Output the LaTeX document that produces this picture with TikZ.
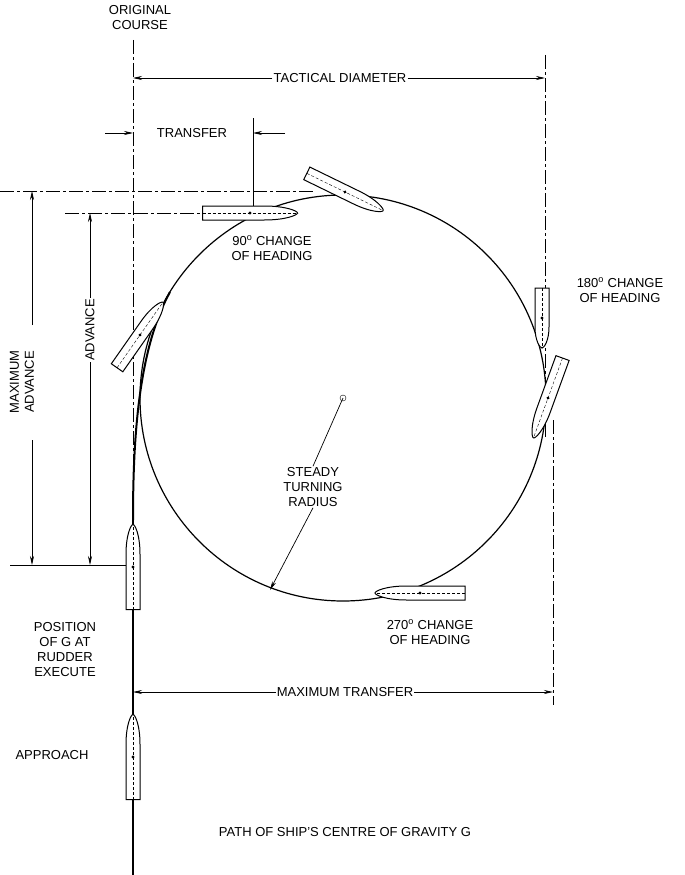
\documentclass[tikz,border=0pt]{standalone}
\usepackage{fontspec}
\setmainfont{Liberation Sans}
\usetikzlibrary{arrows.meta}
\newcommand{\myship}[4]{%
\begin{scope}[shift={(#1,#2)},rotate=#3]
\filldraw[fill=white,line width=1pt] (-#4/2,-7) -- (#4*0.15,-7) .. controls (#4*0.38,-7) and (#4*0.5,-2) .. (#4/2,0) .. controls (#4*0.5,2) and (#4*0.38,7) .. (#4*0.15,7) -- (-#4/2,7) -- cycle;
\draw[densely dashed,thin] (-#4/2,0) -- (#4/2,0);
\fill (0,0) circle (1.6);
\end{scope}}
\begin{document}
\begin{tikzpicture}[x=1pt,y=-1pt,
  lbl/.style={font=\fontsize{13}{15}\selectfont,align=center,inner sep=1pt},
  dimline/.style={line width=0.7pt,-{Stealth[length=9pt,width=4pt]}},
  dimdash/.style={line width=0.7pt,dash pattern=on 14pt off 3pt on 3pt off 3pt},
  thick1/.style={line width=1.2pt}]
\useasboundingbox (0,0) rectangle (685,875);
% original course
\coordinate (oc1) at (133,40);
\coordinate (oc2) at (133,520);
\coordinate (oc3) at (133,875);
\draw[dimdash] (oc1) -- (oc2);
\draw[line width=2pt] (oc2) -- (oc3);
% path & circle
\coordinate (c) at (343,398);
\draw[thick1] (c) circle (203);
\draw[line width=2pt] (133,520) .. controls (133,440) and (138,350) .. (170,292);
\draw[fill=white] (c) circle (3);
% tactical diameter line
\coordinate (td1) at (545,55);
\coordinate (td2) at (545,440);
\draw[dimdash] (td1) -- (td2);
\coordinate (mt1) at (553,420);
\coordinate (mt2) at (553,705);
\draw[dimdash] (mt1) -- (mt2);
% tactical diameter dim
\node[lbl,fill=white] (tdl) at (340,78) {TACTICAL DIAMETER};
\draw[dimline] (tdl.west) -- (133,78);
\draw[dimline] (tdl.east) -- (545,78);
% transfer
\node[lbl] (trl) at (192,133) {TRANSFER};
\draw[dimline] (105,133) -- (133,133);
\draw[dimline] (285,133) -- (253,133);
\draw[line width=0.7pt] (253,118) -- (253,212);
% max advance
\draw[dimdash] (0,191) -- (315,191);
\draw[line width=0.7pt] (10,565) -- (133,565);
\node[lbl,rotate=90] (mal) at (22,382) {MAXIMUM\\ADVANCE};
\draw[dimline] (32,325) -- (32,191);
\draw[dimline] (32,440) -- (32,565);
% advance
\draw[dimdash] (65,213) -- (215,213);
\node[lbl,rotate=90,fill=white] (adl) at (90,330) {ADVANCE};
\draw[dimline] (adl.east) -- (90,213);
\draw[dimline] (adl.west) -- (90,565);
% maximum transfer
\node[lbl,fill=white] (mtl) at (345,692) {MAXIMUM TRANSFER};
\draw[dimline] (mtl.west) -- (133,692);
\draw[dimline] (mtl.east) -- (553,692);
% turning radius
\node[lbl] (str) at (313,487) {STEADY\\TURNING\\RADIUS};
\draw[line width=0.7pt] (c) -- (str.north);
\draw[dimline] (str.south) -- (270,590);
% ships
\myship{250}{213}{0}{95}
\myship{345}{192}{-26}{85}
\myship{542}{318}{-90}{60}
\myship{548}{398}{-110}{85}
\myship{420}{593}{180}{90}
\myship{140}{335}{55}{80}
\myship{133}{567}{90}{85}
\myship{133}{757}{90}{85}
% labels
\node[lbl] (ocl) at (140,18) {ORIGINAL\\COURSE};
\node[lbl] (h90) at (272,248) {90$^{\mathrm{o}}$ CHANGE\\OF HEADING};
\node[lbl] (h180) at (620,290) {180$^{\mathrm{o}}$ CHANGE\\OF HEADING};
\node[lbl] (h270) at (430,632) {270$^{\mathrm{o}}$ CHANGE\\OF HEADING};
\node[lbl] (pos) at (65,650) {POSITION\\OF G AT\\RUDDER\\EXECUTE};
\node[lbl] (app) at (52,755) {APPROACH};
\node[lbl] (path) at (345,832) {PATH OF SHIP'S CENTRE OF GRAVITY G};
\end{tikzpicture}
\end{document}
